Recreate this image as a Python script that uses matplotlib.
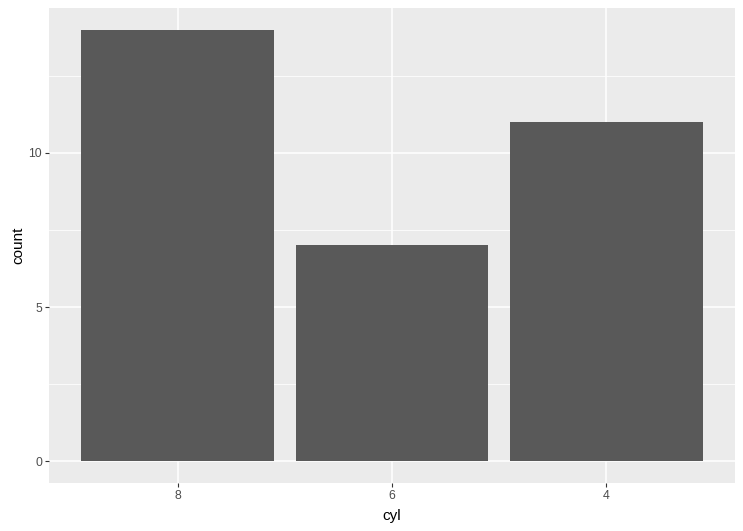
import matplotlib
matplotlib.use("Agg")
import matplotlib.pyplot as plt

# mtcars cylinder counts, in the order shown
cyl_labels = ["8", "6", "4"]
counts = [14, 7, 11]

plt.rcParams['font.family'] = ['Liberation Sans', 'DejaVu Sans']

fig = plt.figure(figsize=(7.43, 5.31), dpi=100)
ax = fig.add_axes([49 / 743, (531 - 483) / 531, (735 - 49) / 743, (483 - 8) / 531])

ax.set_facecolor("#EBEBEB")
x = list(range(1, len(cyl_labels) + 1))
ax.bar(x, counts, width=0.9, color="#595959", zorder=3)

ax.set_xlim(0.4, len(cyl_labels) + 0.6)
ax.set_ylim(-0.7, max(counts) * 1.05)

ax.set_xticks(x)
ax.set_xticklabels(cyl_labels)
ax.set_yticks([0, 5, 10])
ax.set_yticks([2.5, 7.5, 12.5], minor=True)

ax.grid(which="major", color="white", linewidth=1.1, zorder=0)
ax.grid(which="minor", axis="y", color="white", linewidth=0.55, zorder=0)
ax.set_axisbelow(True)

for s in ax.spines.values():
    s.set_visible(False)

ax.tick_params(which="major", length=3, width=0.8, color="#333333",
               labelcolor="#4D4D4D", labelsize=8.8, pad=2)
ax.tick_params(which="minor", length=0)

ax.set_xlabel("cyl", fontsize=11, color="black", labelpad=5)
ax.set_ylabel("count", fontsize=11, color="black", labelpad=2)

fig.savefig("out.png", dpi=100, facecolor="white")
